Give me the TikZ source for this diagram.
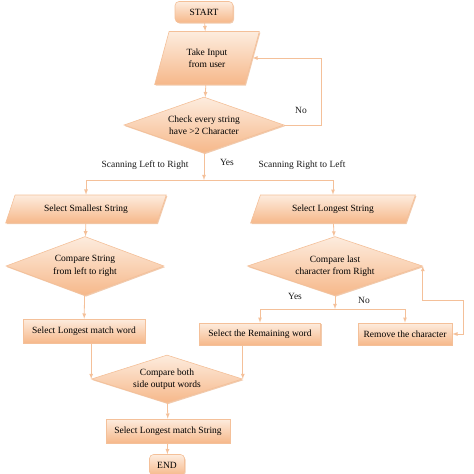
\documentclass[tikz,border=0pt]{standalone}
\usepackage{fontspec}
\setmainfont{Liberation Serif}
\usetikzlibrary{shapes.geometric}
\usetikzlibrary{shadows}
\usetikzlibrary{arrows}

\begin{document}
\begin{tikzpicture}[x=1pt,y=-1pt,
	flowbox/.style={draw=custcol_f4_c0_99, line width=0.6pt, top color=custcol_fd_ec_de, bottom color=custcol_f6_b8_8a, font=\fontsize{9.5pt}{12.5pt}\selectfont, align=center, inner sep=1pt, drop shadow={shadow xshift=1pt, shadow yshift=-1.2pt, fill=custcol_e8_a8_78, opacity=0.6}},
	procbox/.style={flowbox, rectangle},
	termbox/.style={flowbox, rectangle, rounded corners=4pt},
	iobox/.style={flowbox, trapezium, trapezium stretches=true},
	decbox/.style={flowbox, diamond, inner sep=0pt},
	flowline/.style={draw=custcol_f4_c0_99, line width=0.8pt, -latex},
	lbl/.style={font=\fontsize{9.5pt}{11pt}\selectfont, inner sep=0, custcol_1a_1a_1a}]
				\definecolor{custcol_fd_ec_de}{RGB}{253, 236, 222}
				\definecolor{custcol_f6_b8_8a}{RGB}{246, 184, 138}
				\definecolor{custcol_f4_c0_99}{RGB}{244, 192, 153}
				\definecolor{custcol_e8_a8_78}{RGB}{232, 168, 120}
				\definecolor{custcol_1a_1a_1a}{RGB}{26, 26, 26}
				\useasboundingbox (0,0) rectangle (474,474);
				% main column
				\node[termbox, minimum width=58pt, minimum height=21pt] (start) at (204,12) {START};
				\node[iobox, trapezium left angle=69, trapezium right angle=111, minimum width=105pt, minimum height=53pt] (inp) at (207,58) {Take Input\\from user};
				\node[decbox, aspect=2.86, minimum width=160pt, minimum height=56pt] (chk) at (204,125) {Check every string\\have >2 Character};
				\coordinate (split) at (204,180);
				\node[iobox, trapezium left angle=62, trapezium right angle=118, minimum width=162pt, minimum height=28pt] (sml) at (86,209) {Select Smallest String};
				\node[iobox, trapezium left angle=62, trapezium right angle=118, minimum width=165pt, minimum height=28pt] (lng) at (333,209) {Select Longest String};
				\node[decbox, aspect=2.68, minimum width=158pt, minimum height=59pt] (cmpL) at (85,266) {Compare String\\from left to right};
				\node[decbox, aspect=2.97, minimum width=175pt, minimum height=59pt] (cmpR) at (335,266) {Compare last\\character from Right};
				\node[procbox, minimum width=122pt, minimum height=24pt] (wordL) at (84,331) {Select Longest match word};
				\coordinate (split2) at (335,309);
				\node[procbox, minimum width=121pt, minimum height=22pt] (rem) at (260,334) {Select the Remaining word};
				\node[procbox, minimum width=94pt, minimum height=22pt] (del) at (405,334) {Remove the character};
				\coordinate (loopR) at (463,300);
				\node[decbox, aspect=3.15, minimum width=151pt, minimum height=48pt] (cmpB) at (167,379) {Compare both\\side output words};
				\node[procbox, minimum width=124pt, minimum height=24pt] (best) at (168,431) {Select Longest match String};
				\node[termbox, minimum width=35pt, minimum height=21pt] (end) at (167,465) {END};
				\node[lbl] (scanL) at (145,165) {Scanning Left to Right};
				\node[lbl] (scanR) at (302,165) {Scanning Right to Left};
				\node[lbl] (yesA) at (227,162) {Yes};
				\node[lbl] (noA) at (301,110) {No};
				\node[lbl] (yesB) at (295,296) {Yes};
				\node[lbl] (noB) at (364,300) {No};
				\draw[flowline] (start) -- (inp);
				\draw[flowline] (inp) -- (chk);
				\draw[flowline] (chk.east) -- ++(37,0) |- (inp.east);
				\draw[flowline] (chk) -- (split);
				\draw[flowline] (split) -| (sml.north);
				\draw[flowline] (split) -| (lng.north);
				\draw[flowline] (sml) -- (cmpL);
				\draw[flowline] (lng) -- (cmpR);
				\draw[flowline] (cmpL) -- (wordL);
				\draw[flowline] (cmpR) -- (split2);
				\draw[flowline] (split2) -| (rem.north);
				\draw[flowline] (split2) -| (del.north);
				\draw[flowline, latex-latex] (del.east) -| (loopR) -| (cmpR.east);
				\draw[flowline] (wordL.south -| cmpB.west) -- (cmpB.west);
				\draw[flowline] (rem.south -| cmpB.east) -- (cmpB.east);
				\draw[flowline] (cmpB) -- (best);
				\draw[flowline] (best) -- (end);
			\end{tikzpicture}
\end{document}
